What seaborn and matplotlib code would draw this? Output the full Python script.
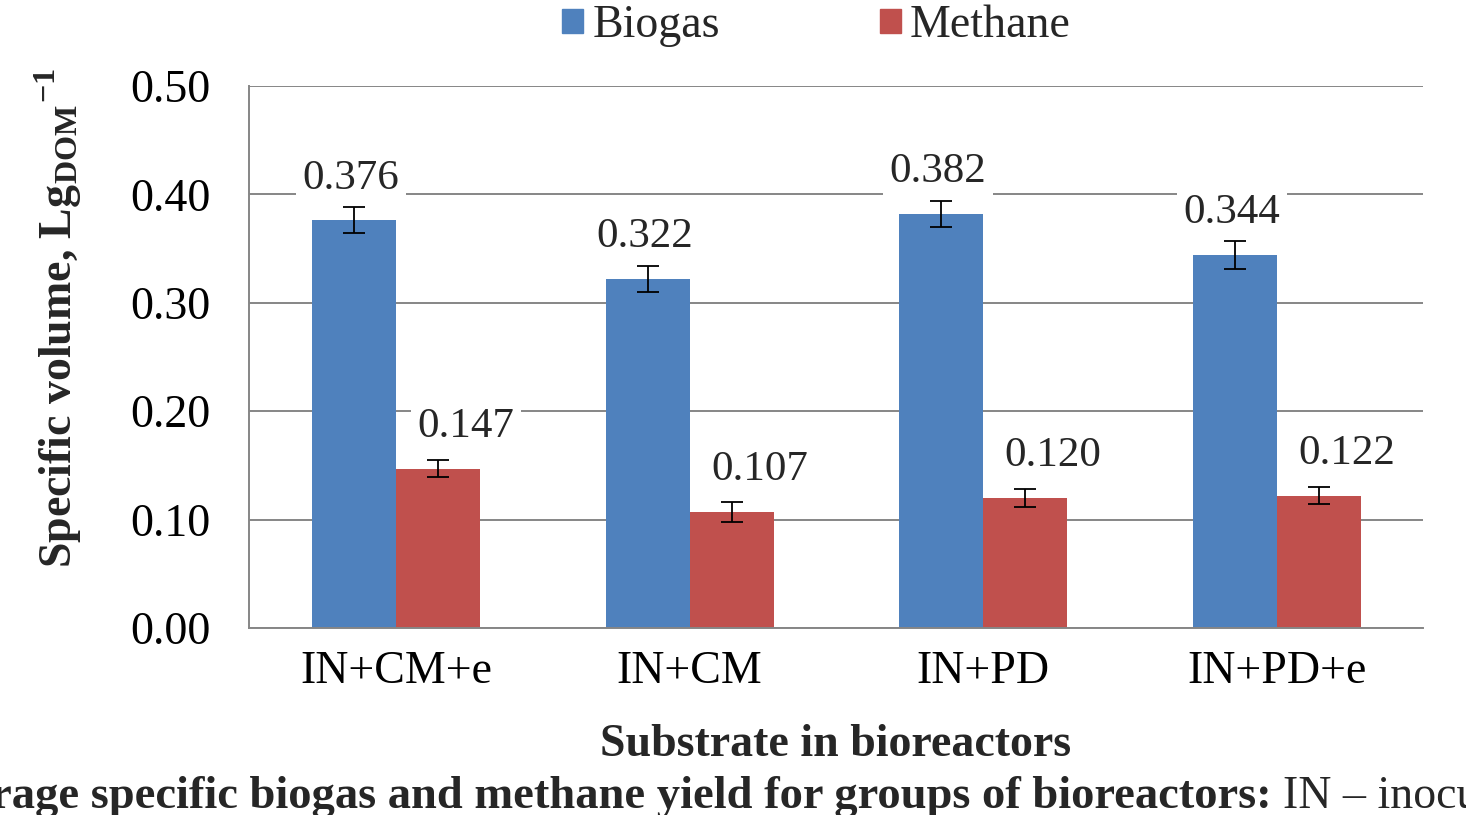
import numpy as np
import pandas as pd
import matplotlib
matplotlib.use("Agg")
import matplotlib.pyplot as plt
import seaborn as sns

# ------------------------------------------------------------------
# data
# ------------------------------------------------------------------
substrates = ["IN+CM+e", "IN+CM", "IN+PD", "IN+PD+e"]
biogas = [0.376, 0.322, 0.382, 0.344]
methane = [0.147, 0.107, 0.120, 0.122]
biogas_err = [0.012, 0.012, 0.012, 0.013]
methane_err = [0.008, 0.009, 0.008, 0.008]
y_ticks = [0.0, 0.1, 0.2, 0.3, 0.4, 0.5]

df = pd.DataFrame({
    "substrate": substrates * 2,
    "gas": ["Biogas"] * 4 + ["Methane"] * 4,
    "value": biogas + methane,
    "err": biogas_err + methane_err,
})

sns.set_style("white")
plt.rcParams["font.family"] = ["Liberation Serif", "DejaVu Serif"]
plt.rcParams["mathtext.fontset"] = "stix"

colors = {"Biogas": "#4F81BD", "Methane": "#C0504D"}
grid_col = "#868686"
fs = 33

fig = plt.figure(figsize=(14.66, 8.15), dpi=100)
ax = fig.add_axes([0.170, 0.2294, 0.801, 0.6651])

sns.barplot(data=df, x="substrate", y="value", hue="gas", order=substrates,
            hue_order=["Biogas", "Methane"], palette=colors, width=0.572,
            errorbar=None, saturation=1, linewidth=0, ax=ax, zorder=2)

# error bars + value labels
label_dx = {"Biogas": -3, "Methane": 28}
for cont, gas in zip(ax.containers, ["Biogas", "Methane"]):
    sub = df[df.gas == gas].set_index("substrate").loc[substrates]
    for bar, val, err in zip(cont, sub["value"], sub["err"]):
        xc = bar.get_x() + bar.get_width() / 2
        ax.errorbar(xc, val, yerr=err, color="black", capsize=8,
                    elinewidth=1.3, capthick=1.3, zorder=3)
        ax.annotate(f"{val:.3f}", (xc, val), xytext=(label_dx[gas], 42),
                    textcoords="offset pixels", ha="center", va="center",
                    fontsize=31, zorder=4,
                    bbox=dict(boxstyle="square,pad=0.15", fc="white", ec="none"))

ax.set_xlim(-0.5, 3.5)
ax.set_ylim(0, 0.5)
ax.set_yticks(y_ticks)
ax.set_yticklabels([f"{t:.2f}" for t in y_ticks])
ax.yaxis.grid(True, color=grid_col, linewidth=1.4, zorder=0)
ax.set_axisbelow(True)

for s in ["top", "right"]:
    ax.spines[s].set_visible(False)
for s in ["left", "bottom"]:
    ax.spines[s].set_color(grid_col)
    ax.spines[s].set_linewidth(1.4)

# category boundary ticks on the x axis
ax.set_xticks(np.arange(-0.5, 4.0, 1.0), minor=True)
ax.tick_params(axis="x", which="major", length=0, labelsize=fs, pad=16)
ax.tick_params(axis="x", which="minor", length=9, width=1.4, color=grid_col,
               direction="out")
ax.tick_params(axis="y", length=9, width=1.4, color=grid_col, direction="out",
               labelsize=fs, pad=19)
ax.tick_params(axis="both", labelcolor="black")

ax.set_xlabel("")
ax.set_ylabel("")
ax.get_legend().remove()

fig.text(0.5703, 0.086, "Substrate in bioreactors", ha="center", va="center",
         fontsize=fs, fontweight="bold")
fig.text(0.040, 0.610,
         r"Specific volume, Lg$_{\mathregular{DOM}}{}^{\mathregular{-1}}$",
         rotation=90, ha="center", va="center", fontsize=fs, fontweight="bold")

# legend at top
handles = [plt.Rectangle((0, 0), 1, 1, color=colors[g]) for g in ["Biogas", "Methane"]]
fig.legend(handles, ["Biogas", "Methane"], loc="center", ncol=2,
           bbox_to_anchor=(0.557, 0.968), frameon=False, fontsize=fs,
           handlelength=0.45, handleheight=0.45, handletextpad=0.2,
           columnspacing=3.5)

# caption running off both edges, as in the source figure
fig.text(0.8675, 0.022, "Average specific biogas and methane yield for groups of bioreactors:",
         ha="right", va="center", fontsize=33.5, fontweight="bold")
fig.text(0.8755, 0.022, "IN \u2013 inoculum", ha="left", va="center", fontsize=33)

fig.savefig("out.png", dpi=100)
